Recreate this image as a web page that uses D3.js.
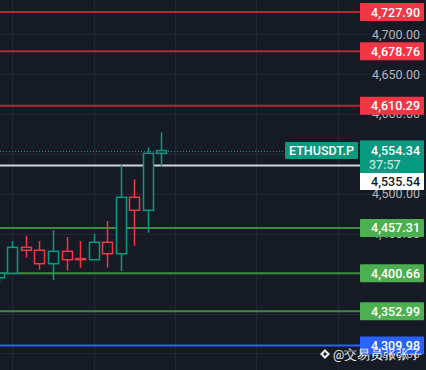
<!DOCTYPE html>
<html>
<head>
<meta charset="utf-8">
<script src="https://cdn.jsdelivr.net/npm/d3@7/dist/d3.min.js"></script>
<style>
  html, body { margin: 0; padding: 0; background: #161a25; }
  svg { display: block; }
  text { font-family: Roboto, "Noto Sans", sans-serif; }
</style>
</head>
<body>
<div id="chart"></div>
<script>
// candles, oldest first (first one is cut by the left edge)
const opens  = [4394.9, 4400.5, 4433.0, 4429.3, 4412.5, 4428.0, 4418.8, 4417.5, 4439.3, 4425.0, 4495.7, 4479.4, 4550.8];
const highs  = [4402.0, 4440.9, 4447.2, 4440.9, 4454.7, 4446.0, 4440.9, 4449.7, 4466.0, 4536.2, 4518.3, 4558.4, 4577.2];
const lows   = [4390.0, 4400.5, 4420.0, 4405.0, 4392.1, 4403.7, 4407.5, 4417.5, 4407.5, 4403.3, 4435.0, 4451.3, 4534.0];
const closes = [4400.5, 4433.0, 4429.3, 4412.5, 4428.0, 4417.5, 4417.5, 4439.3, 4425.0, 4495.7, 4479.4, 4550.8, 4554.34];

const resistance = [4727.90, 4678.76, 4610.29];
const support = [4457.31, 4400.66, 4352.99];
const stopLevel = [4309.98];
const markPrice = 4535.54;
const lastPrice = 4554.34;
const countdown = '37:57';
const symbol = 'ETHUSDT.P';
const axisTicks = [4300, 4350, 4400, 4450, 4500, 4550, 4600, 4650, 4700];
const gridCandles = [1, 7, 13, 19, 25];
const watermark = '@交易员张张子';

const width = 426, height = 370;
const up = '#089981', down = '#f23645';

const svg = d3.select('#chart').append('svg')
  .attr('width', width).attr('height', height);

svg.append('rect').attr('width', width).attr('height', height).attr('fill', '#161a25');

const y = d3.scaleLinear().domain([4309.98, 4727.90]).range([345.5, 12]);
const x = d3.scaleLinear().domain([0, 1]).range([-1.25, 12.3]);

const fmt = d3.format(',.2f');

// grid
svg.append('g').selectAll('line').data(axisTicks).join('line')
  .attr('x1', 0).attr('x2', width)
  .attr('y1', d => Math.round(y(d)) + 0.5).attr('y2', d => Math.round(y(d)) + 0.5)
  .attr('stroke', '#232733').attr('stroke-width', 1);
svg.append('g').selectAll('line').data(gridCandles).join('line')
  .attr('x1', d => Math.round(x(d)) + 0.5).attr('x2', d => Math.round(x(d)) + 0.5)
  .attr('y1', 0).attr('y2', height)
  .attr('stroke', '#232733').attr('stroke-width', 1);

// axis tick labels
svg.append('g').selectAll('text').data(axisTicks).join('text')
  .attr('x', 420).attr('y', d => y(d))
  .attr('dy', '0.35em').attr('text-anchor', 'end')
  .attr('font-size', 12.5).attr('fill', '#b2b5be')
  .text(d => fmt(d));

// level lines
const levels = [
  ...resistance.map(v => ({v, line: '#b22833', box: '#f23645'})),
  ...support.map(v => ({v, line: '#388e3c', box: '#4caf50'})),
  ...stopLevel.map(v => ({v, line: '#2962ff', box: '#2962ff'}))
];
svg.append('g').selectAll('line').data(levels).join('line')
  .attr('x1', 0).attr('x2', 360)
  .attr('y1', d => y(d.v)).attr('y2', d => y(d.v))
  .attr('stroke', d => d.line).attr('stroke-width', 2);

// mark price line
svg.append('line').attr('x1', 0).attr('x2', 360)
  .attr('y1', y(markPrice)).attr('y2', y(markPrice))
  .attr('stroke', '#d1d4dc').attr('stroke-width', 2);

// last price dotted line
svg.append('line').attr('x1', 0).attr('x2', 285)
  .attr('y1', Math.round(y(lastPrice)) + 0.5).attr('y2', Math.round(y(lastPrice)) + 0.5)
  .attr('stroke', up).attr('stroke-width', 1).attr('stroke-dasharray', '1,2');

// candles
const candles = opens.map((o, i) => ({i, o, h: highs[i], l: lows[i], c: closes[i]}));
const cg = svg.append('g').selectAll('g').data(candles).join('g');
cg.each(function (d) {
  const g = d3.select(this);
  const col = d.c >= d.o ? up : down;
  const cx = Math.round(x(d.i)) + 0.5;
  const top = y(Math.max(d.o, d.c)), bot = y(Math.min(d.o, d.c));
  g.append('line').attr('x1', cx).attr('x2', cx)
    .attr('y1', y(d.h)).attr('y2', top).attr('stroke', col).attr('stroke-width', 1.5);
  g.append('line').attr('x1', cx).attr('x2', cx)
    .attr('y1', bot).attr('y2', y(d.l)).attr('stroke', col).attr('stroke-width', 1.5);
  g.append('rect').attr('x', cx - 5).attr('width', 10)
    .attr('y', top).attr('height', Math.max(1, bot - top))
    .attr('fill', '#161a25').attr('stroke', col).attr('stroke-width', 1.5);
});

// level labels
const lab = svg.append('g').selectAll('g').data(levels).join('g')
  .attr('transform', d => `translate(360,${y(d.v)})`);
lab.append('rect').attr('x', 0).attr('y', -9).attr('width', 64).attr('height', 18)
  .attr('rx', 1).attr('fill', d => d.box);
lab.append('text').attr('x', 60).attr('dy', '0.36em').attr('text-anchor', 'end')
  .attr('font-size', 12.5).attr('font-weight', 500).attr('fill', '#ffffff')
  .text(d => fmt(d.v));

// last price label with countdown
const ly = y(lastPrice);
svg.append('rect').attr('x', 360).attr('y', ly - 10).attr('width', 64).attr('height', 33)
  .attr('fill', up);
svg.append('text').attr('x', 420).attr('y', ly).attr('dy', '0.36em').attr('text-anchor', 'end')
  .attr('font-size', 12.5).attr('font-weight', 500).attr('fill', '#ffffff').text(fmt(lastPrice));
svg.append('text').attr('x', 369).attr('y', ly + 14).attr('dy', '0.36em')
  .attr('font-size', 12.5).attr('font-weight', 500).attr('fill', '#bfe6df').text(countdown);

// symbol tag
svg.append('rect').attr('x', 285).attr('y', ly - 8.5).attr('width', 73).attr('height', 17)
  .attr('rx', 1).attr('fill', up);
svg.append('text').attr('x', 321.5).attr('y', ly).attr('dy', '0.36em').attr('text-anchor', 'middle')
  .attr('font-size', 12.5).attr('font-weight', 500).attr('fill', '#ffffff').text(symbol);

// mark price label, pushed below the last price label
const my = ly + 31;
svg.append('rect').attr('x', 360).attr('y', my - 8.5).attr('width', 64).attr('height', 17)
  .attr('fill', '#ffffff');
svg.append('text').attr('x', 420).attr('y', my).attr('dy', '0.36em').attr('text-anchor', 'end')
  .attr('font-size', 12.5).attr('font-weight', 500).attr('fill', '#131722').text(fmt(markPrice));

// watermark
const wm = svg.append('g').attr('transform', 'translate(325,354)');
wm.append('path').attr('d', 'M0,-5 L5,0 L0,5 L-5,0 Z M0,-2 L2,0 L0,2 L-2,0 Z')
  .attr('fill', '#e8e8e8').attr('fill-rule', 'evenodd');
wm.append('text').attr('x', 8).attr('dy', '0.36em')
  .attr('font-family', '"Noto Sans CJK SC", sans-serif')
  .attr('font-size', 12.5).attr('fill', '#eeeeee').text(watermark);
</script>
</body>
</html>
